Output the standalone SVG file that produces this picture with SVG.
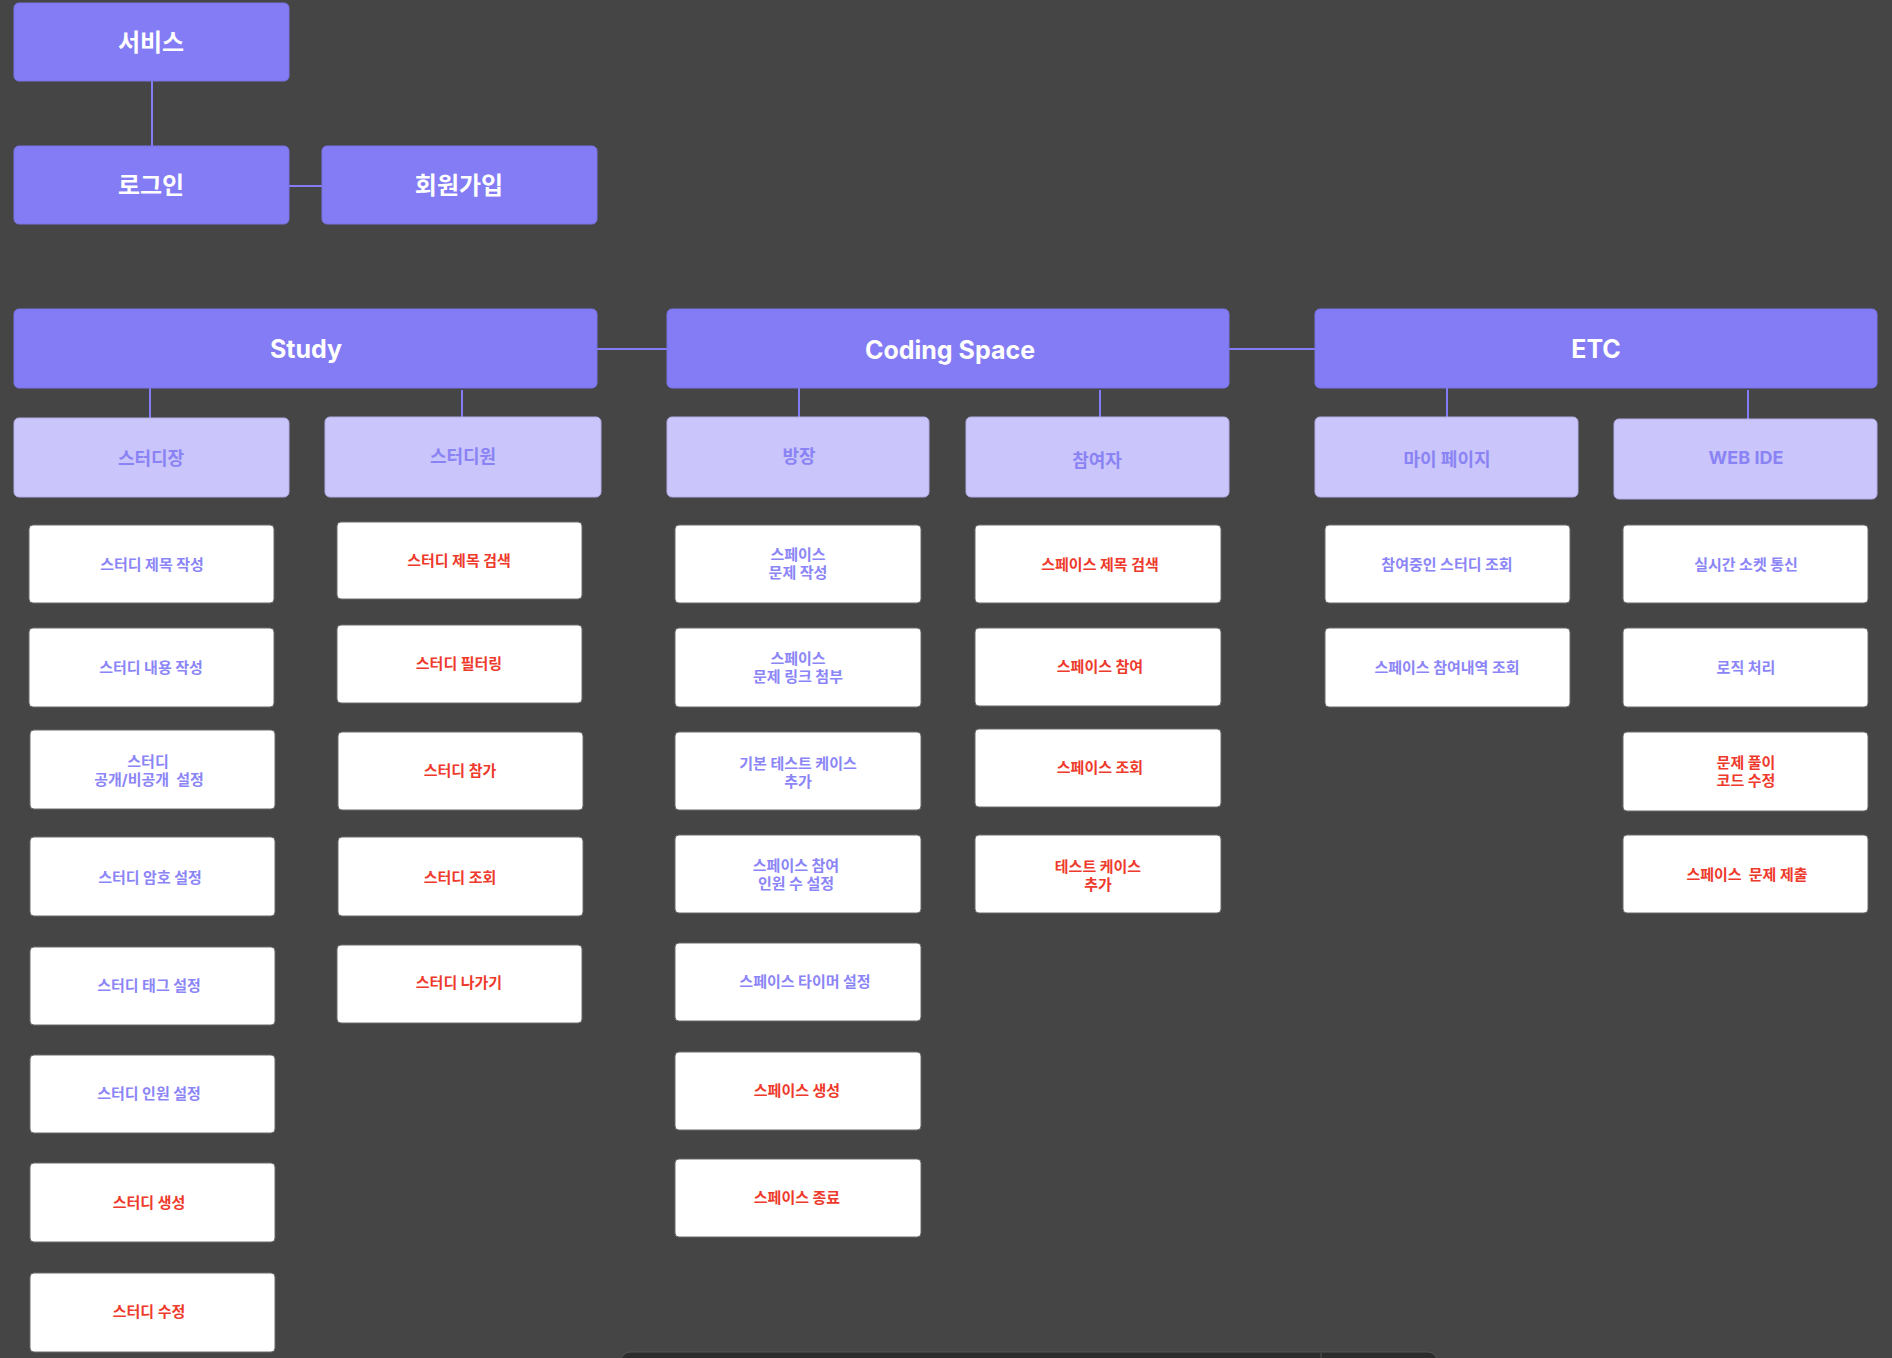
<svg xmlns="http://www.w3.org/2000/svg" width="1892" height="1358" viewBox="0 0 1892 1358">
<style>
text{font-family:"Inter","Noto Sans CJK KR",sans-serif;text-anchor:middle;dominant-baseline:central;white-space:pre}
.h rect{fill:#837cf4;stroke:#7a73e6;stroke-width:1}
.h text{fill:#ffffff;font-weight:700;font-size:24px}
.h text.lat{font-size:25px}
.s rect{fill:#cac5fa;stroke:#b3aee8;stroke-width:1}
.s text{fill:#8a83f5;font-weight:700;font-size:18px}
.l rect{fill:#ffffff;stroke:#6a6a6a;stroke-width:1}
.l text{font-weight:700;font-size:15px;fill:#8b85f7}
.l.r text{fill:#ee3a2c}
.c line{stroke:#837cf4;stroke-width:2}
</style>
<rect x="0" y="0" width="1892" height="1358" fill="#454545"/>

<g id="connectors" class="c">
<line x1="152" y1="81" x2="152" y2="146"/>
<line x1="289" y1="186" x2="322" y2="186"/>
<line x1="597" y1="349" x2="667" y2="349"/>
<line x1="1229" y1="349" x2="1315" y2="349"/>
<line x1="150" y1="388" x2="150" y2="418"/>
<line x1="462" y1="390" x2="462" y2="417"/>
<line x1="799" y1="388" x2="799" y2="417"/>
<line x1="1100" y1="390" x2="1100" y2="417"/>
<line x1="1447" y1="388" x2="1447" y2="417"/>
<line x1="1748" y1="390" x2="1748" y2="419"/>
</g>

<g id="n-service" class="h"><rect x="14" y="3" width="275" height="78" rx="5"/><text x="151" y="42">서비스</text></g>
<g id="n-login" class="h"><rect x="14" y="146" width="275" height="78" rx="5"/><text x="151" y="185">로그인</text></g>
<g id="n-signup" class="h"><rect x="322" y="146" width="275" height="78" rx="5"/><text x="459" y="185">회원가입</text></g>

<g id="n-study" class="h"><rect x="14" y="309" width="583" height="79" rx="5"/><text class="lat" x="306" y="349">Study</text></g>
<g id="n-coding" class="h"><rect x="667" y="309" width="562" height="79" rx="5"/><text class="lat" x="950" y="350">Coding Space</text></g>
<g id="n-etc" class="h"><rect x="1315" y="309" width="562" height="79" rx="5"/><text class="lat" x="1596" y="349">ETC</text></g>

<g id="n-leader" class="s"><rect x="14" y="418" width="275" height="79" rx="5"/><text x="151" y="458">스터디장</text></g>
<g id="n-member" class="s"><rect x="325" y="417" width="276" height="80" rx="5"/><text x="463" y="456">스터디원</text></g>
<g id="n-owner" class="s"><rect x="667" y="417" width="262" height="80" rx="5"/><text x="799" y="456">방장</text></g>
<g id="n-participant" class="s"><rect x="966" y="417" width="263" height="80" rx="5"/><text x="1097" y="460">참여자</text></g>
<g id="n-mypage" class="s"><rect x="1315" y="417" width="263" height="80" rx="5"/><text x="1447" y="459">마이 페이지</text></g>
<g id="n-webide" class="s"><rect x="1614" y="419" width="263" height="80" rx="5"/><text x="1746" y="457">WEB IDE</text></g>

<g id="n-s1" class="l"><rect x="29" y="525" width="245" height="78" rx="4"/><text x="152" y="564">스터디 제목 작성</text></g>
<g id="n-s2" class="l"><rect x="29" y="628" width="245" height="79" rx="4"/><text x="151" y="667">스터디 내용 작성</text></g>
<g id="n-s3" class="l"><rect x="30" y="730" width="245" height="79" rx="4"/><text x="148" y="761">스터디</text><text x="149" y="779">공개/비공개  설정</text></g>
<g id="n-s4" class="l"><rect x="30" y="837" width="245" height="79" rx="4"/><text x="150" y="877">스터디 암호 설정</text></g>
<g id="n-s5" class="l"><rect x="30" y="947" width="245" height="78" rx="4"/><text x="149" y="985">스터디 태그 설정</text></g>
<g id="n-s6" class="l"><rect x="30" y="1055" width="245" height="78" rx="4"/><text x="149" y="1093">스터디 인원 설정</text></g>
<g id="n-s7" class="l r"><rect x="30" y="1163" width="245" height="79" rx="4"/><text x="149" y="1202">스터디 생성</text></g>
<g id="n-s8" class="l r"><rect x="30" y="1273" width="245" height="79" rx="4"/><text x="149" y="1311">스터디 수정</text></g>

<g id="n-m1" class="l r"><rect x="337" y="522" width="245" height="77" rx="4"/><text x="459" y="560">스터디 제목 검색</text></g>
<g id="n-m2" class="l r"><rect x="337" y="625" width="245" height="78" rx="4"/><text x="459" y="663">스터디 필터링</text></g>
<g id="n-m3" class="l r"><rect x="338" y="732" width="245" height="78" rx="4"/><text x="460" y="770">스터디 참가</text></g>
<g id="n-m4" class="l r"><rect x="338" y="837" width="245" height="79" rx="4"/><text x="460" y="877">스터디 조회</text></g>
<g id="n-m5" class="l r"><rect x="337" y="945" width="245" height="78" rx="4"/><text x="459" y="982">스터디 나가기</text></g>

<g id="n-o1" class="l"><rect x="675" y="525" width="246" height="78" rx="4"/><text x="798" y="554">스페이스</text><text x="798" y="572">문제 작성</text></g>
<g id="n-o2" class="l"><rect x="675" y="628" width="246" height="79" rx="4"/><text x="798" y="658">스페이스</text><text x="798" y="676">문제 링크 첨부</text></g>
<g id="n-o3" class="l"><rect x="675" y="732" width="246" height="78" rx="4"/><text x="798" y="763">기본 테스트 케이스</text><text x="798" y="781">추가</text></g>
<g id="n-o4" class="l"><rect x="675" y="835" width="246" height="78" rx="4"/><text x="796" y="865">스페이스 참여</text><text x="796" y="883">인원 수 설정</text></g>
<g id="n-o5" class="l"><rect x="675" y="943" width="246" height="78" rx="4"/><text x="805" y="981">스페이스 타이머 설정</text></g>
<g id="n-o6" class="l r"><rect x="675" y="1052" width="246" height="78" rx="4"/><text x="797" y="1090">스페이스 생성</text></g>
<g id="n-o7" class="l r"><rect x="675" y="1159" width="246" height="78" rx="4"/><text x="797" y="1197">스페이스 종료</text></g>

<g id="n-p1" class="l r"><rect x="975" y="525" width="246" height="78" rx="4"/><text x="1100" y="564">스페이스 제목 검색</text></g>
<g id="n-p2" class="l r"><rect x="975" y="628" width="246" height="78" rx="4"/><text x="1100" y="666">스페이스 참여</text></g>
<g id="n-p3" class="l r"><rect x="975" y="729" width="246" height="78" rx="4"/><text x="1100" y="767">스페이스 조회</text></g>
<g id="n-p4" class="l r"><rect x="975" y="835" width="246" height="78" rx="4"/><text x="1098" y="866">테스트 케이스</text><text x="1098" y="884">추가</text></g>

<g id="n-e1" class="l"><rect x="1325" y="525" width="245" height="78" rx="4"/><text x="1447" y="564">참여중인 스터디 조회</text></g>
<g id="n-e2" class="l"><rect x="1325" y="628" width="245" height="79" rx="4"/><text x="1447" y="667">스페이스 참여내역 조회</text></g>

<g id="n-w1" class="l"><rect x="1623" y="525" width="245" height="78" rx="4"/><text x="1746" y="564">실시간 소켓 통신</text></g>
<g id="n-w2" class="l"><rect x="1623" y="628" width="245" height="79" rx="4"/><text x="1746" y="667">로직 처리</text></g>
<g id="n-w3" class="l r"><rect x="1623" y="732" width="245" height="79" rx="4"/><text x="1746" y="762">문제 풀이</text><text x="1746" y="780">코드 수정</text></g>
<g id="n-w4" class="l r"><rect x="1623" y="835" width="245" height="78" rx="4"/><text x="1747" y="874">스페이스  문제 제출</text></g>

<rect x="621" y="1352" width="816" height="30" rx="9" fill="#2c2c2c" stroke="#555555" stroke-width="1"/>
<line x1="1321" y1="1353" x2="1321" y2="1358" stroke="#555555" stroke-width="1"/>
</svg>
